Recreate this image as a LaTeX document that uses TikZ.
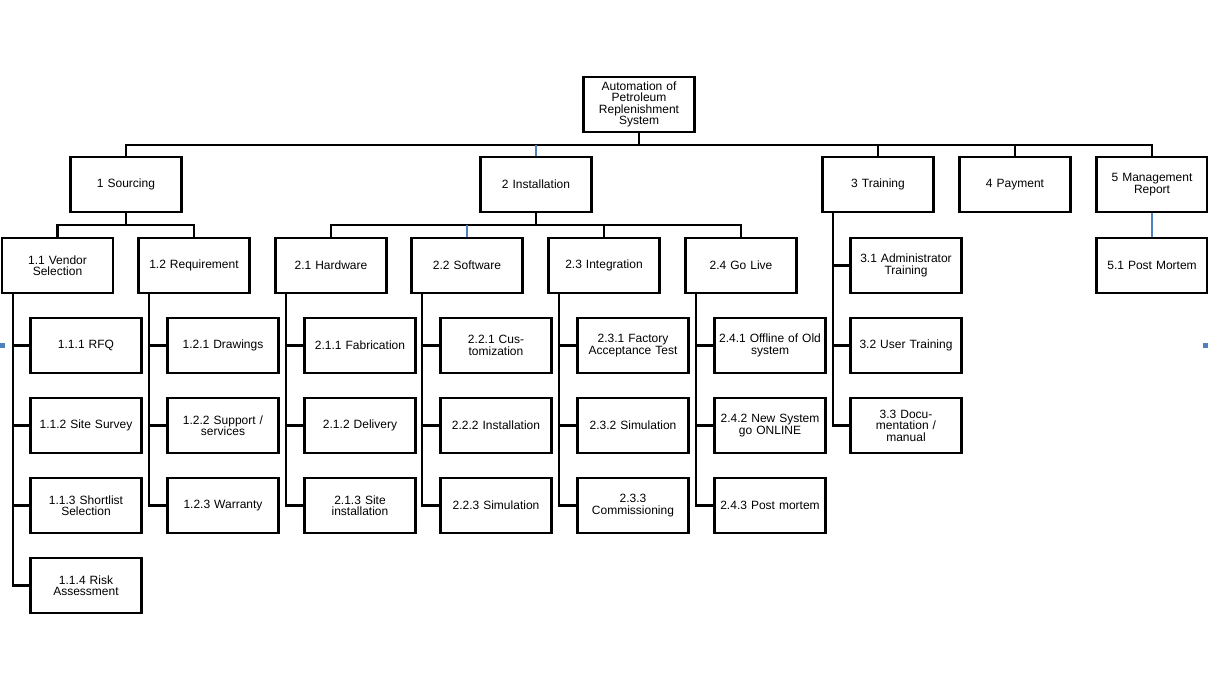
\documentclass[tikz,border=0pt]{standalone}
\usepackage{fontspec}
\setmainfont{Liberation Sans}
\definecolor{stub}{RGB}{79,129,189}
\begin{document}
\begin{tikzpicture}[x=1pt,y=-1pt,
  wb/.style={draw,line width=2.6pt,minimum width=111pt,minimum height=55pt,inner sep=1pt,align=center,text width=104pt,font=\fontsize{12}{11.5}\selectfont},
  ln/.style={line width=2.6pt},
  bl/.style={line width=2.6pt,draw=stub}]
\useasboundingbox (0,0) rectangle (1208,697);
\node[wb] (r) at (639,104.5) {Automation of\\Petroleum\\Replenishment\\System};
\node[wb] (n1) at (126,184.5) {1 Sourcing};
\node[wb] (n2) at (536,184.5) {2 Installation};
\node[wb] (n3) at (878,184.5) {3 Training};
\node[wb] (n4) at (1015,184.5) {4 Payment};
\node[wb] (n5) at (1152,184.5) {5 Management\\Report};
\node[wb] (n11) at (57.5,265.5) {1.1 Vendor\\Selection};
\node[wb] (n12) at (194,265.5) {1.2 Requirement};
\node[wb] (n21) at (331,265.5) {2.1 Hardware};
\node[wb] (n22) at (467,265.5) {2.2 Software};
\node[wb] (n23) at (604,265.5) {2.3 Integration};
\node[wb] (n24) at (741,265.5) {2.4 Go Live};
\node[wb] (n31) at (906,265.5) {3.1 Administrator\\Training};
\node[wb] (n32) at (906,345.5) {3.2 User Training};
\node[wb] (n33) at (906,425.5) {3.3 Documentation /\\manual};
\node[wb] (n51) at (1152,265.5) {5.1 Post Mortem};
\node[wb] (n111) at (86,345.5) {1.1.1 RFQ};
\node[wb] (n112) at (86,425.5) {1.1.2 Site Survey};
\node[wb] (n113) at (86,505.5) {1.1.3 Shortlist\\Selection};
\node[wb] (n114) at (86,585.5) {1.1.4 Risk\\Assessment};
\node[wb] (n121) at (223,345.5) {1.2.1 Drawings};
\node[wb] (n122) at (223,425.5) {1.2.2 Support /\\services};
\node[wb] (n123) at (223,505.5) {1.2.3 Warranty};
\node[wb] (n211) at (360,345.5) {2.1.1 Fabrication};
\node[wb] (n212) at (360,425.5) {2.1.2 Delivery};
\node[wb] (n213) at (360,505.5) {2.1.3 Site\\installation};
\node[wb] (n221) at (496,345.5) {2.2.1 Customization};
\node[wb] (n222) at (496,425.5) {2.2.2 Installation};
\node[wb] (n223) at (496,505.5) {2.2.3 Simulation};
\node[wb] (n231) at (633,345.5) {2.3.1 Factory\\Acceptance Test};
\node[wb] (n232) at (633,425.5) {2.3.2 Simulation};
\node[wb] (n233) at (633,505.5) {2.3.3\\Commissioning};
\node[wb] (n241) at (770,345.5) {2.4.1 Offline of Old\\system};
\node[wb] (n242) at (770,425.5) {2.4.2 New System\\go ONLINE};
\node[wb] (n243) at (770,505.5) {2.4.3 Post mortem};
% level 1 bus
\draw[ln] (r.south) -- (639,145);
\draw[ln] (n1.north) -- (126,145) -- (1152,145) -- (n5.north);
\foreach \n/\x in {n3/878,n4/1015} \draw[ln] (\n.north) -- (\x,145);
\draw[bl] (n2.north) -- (536,145);
% level 2 buses
\draw[ln] (n1.south) -- (126,225);
\draw[ln] (n11.north) -- (57.5,225) -- (194,225) -- (n12.north);
\draw[ln] (n2.south) -- (536,225);
\draw[ln] (n21.north) -- (331,225) -- (741,225) -- (n24.north);
\draw[ln] (n23.north) -- (604,225);
\draw[bl] (n22.north) -- (467,225);
\draw[bl] (n5.south) -- (n51.north);
% spines
\foreach \p/\x/\last in {n11/13/n114,n12/149/n123,n21/286/n213,n22/422/n223,n23/559/n233,n24/696/n243}{
  \draw[ln] (\x,294) |- (\last.west);
}
\draw[ln] (833,213) |- (n33.west);
\foreach \c/\x in {n111/13,n112/13,n113/13,n121/149,n122/149,n211/286,n212/286,n221/422,n222/422,n231/559,n232/559,n241/696,n242/696,n31/833,n32/833}
  \draw[ln] (\x,0 |- \c.west) -- (\c.west);
\fill[stub] (0,343) rectangle (5,348);
\fill[stub] (1203,343) rectangle (1208,348);
\end{tikzpicture}
\end{document}
